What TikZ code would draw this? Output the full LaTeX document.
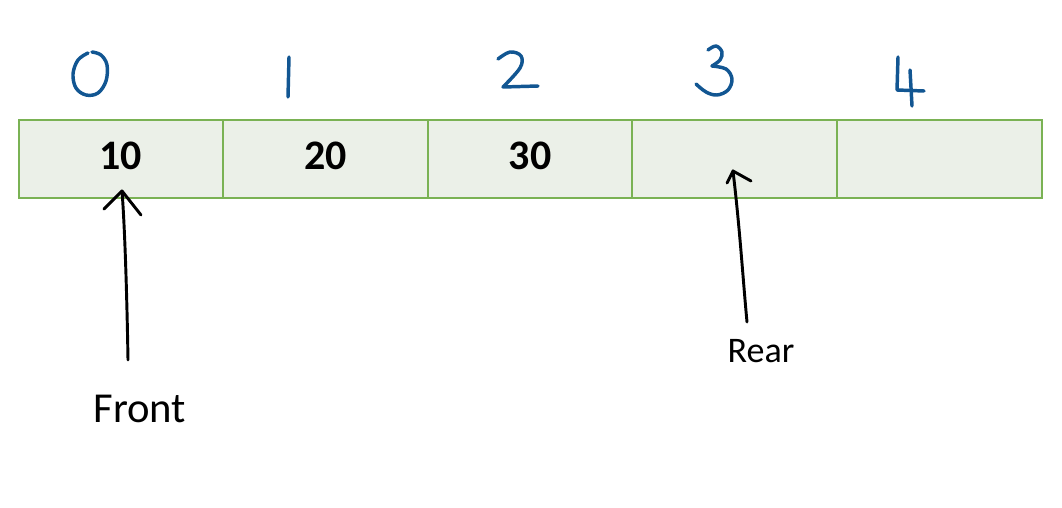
\documentclass[tikz,border=0pt]{standalone}
\usepackage{fontspec}
\setmainfont{Carlito}
\definecolor{cellfill}{RGB}{235,240,232}
\definecolor{cellline}{RGB}{122,178,84}
\definecolor{inkblue}{RGB}{18,86,146}
\tikzset{
  cell/.style={draw=cellline, fill=cellfill, line width=1.5pt, outer sep=0pt, minimum width=153.45pt, minimum height=58.5pt, inner sep=0pt, anchor=north west, font=\fontsize{31.5}{36}\selectfont\bfseries},
  digit/.style={draw=inkblue, line width=2.6pt, line cap=round, line join=round},
  pen/.style={draw=black, line width=2.2pt, line cap=round, line join=round},
  lbl/.style={inner sep=0pt, anchor=base}
}
\begin{document}
\begin{tikzpicture}[x=0.75pt,y=-0.75pt]
\useasboundingbox (0,0) rectangle (1062,507);
% cells
\node[cell] (c0) at (18.5,119.5) {\raisebox{3.6pt}{10}};
\node[cell] (c1) at (c0.north east) {\raisebox{3.6pt}{20}};
\node[cell] (c2) at (c1.north east) {\raisebox{3.6pt}{30}};
\node[cell] (c3) at (c2.north east) {};
\node[cell] (c4) at (c3.north east) {};
% handwritten indices
\draw[digit] plot[smooth, tension=0.6] coordinates {(88,53) (78,60) (73,74) (76,88) (86,95) (98,93) (106,81) (107,65) (101,55) (92,52)};
\draw[digit] (289,57) -- (288,97);
\draw[digit] plot[smooth, tension=0.6] coordinates {(498,59) (510,52) (521,56) (520,68) (503,87)} -- (538,86);
\draw[digit] plot[smooth, tension=0.6] coordinates {(708,50) (716,46) (722,52) (720,60) (712,66)};
\draw[digit] plot[smooth, tension=0.6] coordinates {(712,66) (726,69) (732,79) (728,90) (717,95) (706,92) (696,84)};
\draw[digit] (898,57) -- (897,90) -- (924,91);
\draw[digit] (910,70) -- (912,106);
% labels
\node[lbl, font=\fontsize{32}{36}\selectfont] (front) at (140,422) {Front};
\node[lbl, font=\fontsize{27}{31}\selectfont] (rear) at (761,362) {Rear};
% hand-drawn arrows
\coordinate (ftail) at (128,360);
\coordinate (fhead) at (122,191);
\coordinate (rtail) at (747,322);
\coordinate (rhead) at (733,171);
\draw[pen] (ftail) .. controls (127,300) and (125,230) .. (fhead);
\draw[pen] (104,209) -- (fhead) -- (141,215);
\draw[pen] (rtail) .. controls (743,280) and (740,230) .. (rhead);
\draw[pen] (727,183) -- (rhead) -- (751,181);
\end{tikzpicture}
\end{document}
